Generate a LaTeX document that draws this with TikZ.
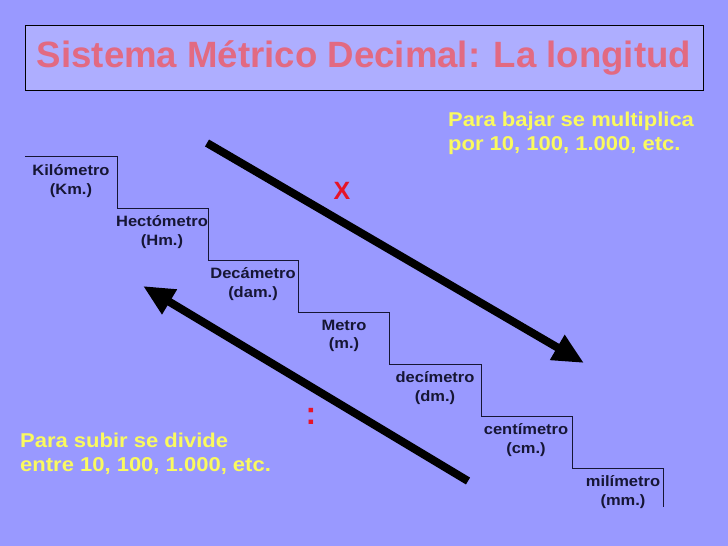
\documentclass[tikz,border=0pt]{standalone}
\usepackage{fontspec}
\setmainfont{Liberation Sans}
\newfontfamily\lblfont[FakeStretch=1.1]{Liberation Sans}
\usetikzlibrary{arrows.meta}
\definecolor{bgc}{RGB}{153,153,255}
\definecolor{boxc}{RGB}{174,174,255}
\definecolor{titc}{RGB}{226,106,130}
\definecolor{navy}{RGB}{22,22,52}
\definecolor{yel}{RGB}{250,250,95}
\definecolor{redc}{RGB}{230,20,40}
\begin{document}
\begin{tikzpicture}[x=1pt,y=-1pt,
  unit/.style={font=\lblfont\bfseries\fontsize{15}{18.5}\selectfont,text=navy,align=center,inner sep=0pt},
  note/.style={font=\lblfont\bfseries\fontsize{20}{24}\selectfont,text=yel,align=left,inner sep=0pt,anchor=north west},
  stair/.style={draw=navy,line width=1pt},
  bigarrow/.style={line width=8pt,-{Triangle[length=31pt,width=27pt]}}]
\useasboundingbox (0,0) rectangle (728,546);
\fill[bgc] (0,0) rectangle (728,546);
% title
\node[draw=black,line width=0.8pt,fill=boxc,minimum width=678pt,minimum height=65pt,inner sep=0pt,
  text=titc,font=\bfseries\fontsize{36.6}{40}\selectfont] (title) at (364,57.5) {Sistema Métrico Decimal: La longitud};
% stairs
\draw[stair] (25,156) -- (117,156) -- (117,208) -- (208,208) -- (208,260) -- (298,260) -- (298,312)
  -- (389,312) -- (389,364) -- (481,364) -- (481,416) -- (572,416) -- (572,468) -- (663,468) -- (663,507);
% labels
\node[unit] (km) at (71,181) {Kilómetro\\(Km.)};
\node[unit] (hm) at (162,232) {Hectómetro\\(Hm.)};
\node[unit] (dam) at (253,284) {Decámetro\\(dam.)};
\node[unit] (m) at (344,336) {Metro\\(m.)};
\node[unit] (dm) at (435,388) {decímetro\\(dm.)};
\node[unit] (cm) at (526,440) {centímetro\\(cm.)};
\node[unit] (mm) at (623,492) {milímetro\\(mm.)};
% arrows
\coordinate (a1) at (207,143);
\coordinate (a2) at (584,363);
\coordinate (b1) at (468,481);
\coordinate (b2) at (143,286);
\draw[bigarrow] (a1) -- (a2);
\draw[bigarrow] (b1) -- (b2);
\node[text=redc,font=\bfseries\fontsize{25}{25}\selectfont] (x) at (342,191) {X};
\node[text=redc,font=\bfseries\fontsize{32}{32}\selectfont] (div) at (311,416) {:};
% notes
\node[note] (bajar) at (448,112) {Para bajar se multiplica\\por 10, 100, 1.000, etc.};
\node[note] (subir) at (20,433) {Para subir se divide\\entre 10, 100, 1.000, etc.};
\end{tikzpicture}
\end{document}
